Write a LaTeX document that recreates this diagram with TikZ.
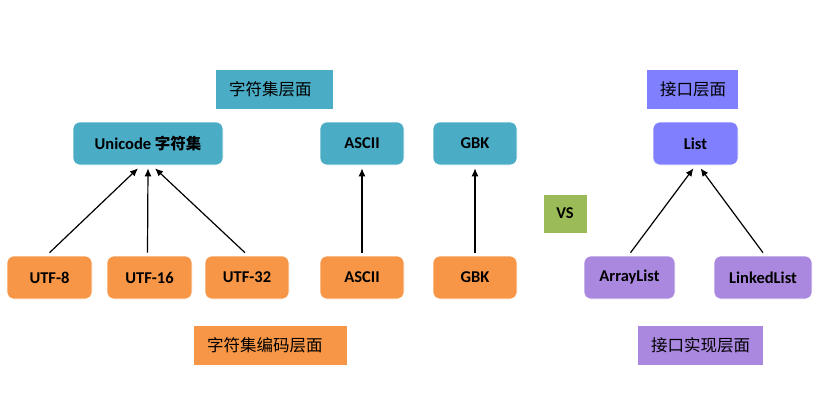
\documentclass[tikz,border=0pt]{standalone}
\usepackage{fontspec}
\usetikzlibrary{arrows.meta}
\setmainfont{Carlito}
\newfontfamily\cjk{Noto Sans CJK SC}
\newfontfamily\cjkb{Noto Sans CJK SC}[UprightFont=* Bold]
\definecolor{teal}{HTML}{4BACC6}
\definecolor{orng}{HTML}{F79646}
\definecolor{purp}{HTML}{AB88DF}
\definecolor{blu}{HTML}{8080FF}
\definecolor{grn}{HTML}{9BBB59}
\begin{document}
\begin{tikzpicture}[x=1pt,y=-1pt,
  box/.style={rounded corners=7pt, draw=white, line width=0.6pt, inner sep=0pt, font=\fontsize{16.5}{18}\selectfont\bfseries},
  lay/.style={inner sep=0pt, align=left, font=\cjk\fontsize{16.5}{18}\selectfont},
  arr/.style={-{Latex[length=8pt,width=7pt]}, line width=1.2pt}]
\useasboundingbox (0,0) rectangle (827,400);
% layer labels
\node[lay, fill=teal, minimum width=117pt, minimum height=39pt, text width=91pt] (l1) at (274.5,89.5) {字符集层面};
\node[lay, fill=blu, minimum width=91pt, minimum height=39pt, text width=65pt] (l2) at (692.5,89.5) {接口层面};
\node[lay, fill=orng, minimum width=153pt, minimum height=39pt, text width=127pt] (l3) at (270.5,345.5) {字符集编码层面};
\node[lay, fill=purp, minimum width=125pt, minimum height=39pt, text width=99pt] (l4) at (700.5,345.5) {接口实现层面};
\node[box, rounded corners=0pt, fill=grn, minimum width=44pt, minimum height=39pt] (vs) at (565,213.5) {VS};
% top row
\node[box, fill=teal, minimum width=150pt, minimum height=43pt] (uni) at (148,143.5) {Unicode {\cjkb\fontsize{15.5}{17}\selectfont 字符集}};
\node[box, fill=teal, minimum width=84pt, minimum height=43pt] (ascT) at (362,143.5) {ASCII};
\node[box, fill=teal, minimum width=84pt, minimum height=43pt] (gbkT) at (475,143.5) {GBK};
\node[box, fill=blu, minimum width=85pt, minimum height=43pt] (list) at (695.5,143.5) {List};
% bottom row
\node[box, fill=orng, minimum width=85pt, minimum height=43pt] (u8) at (49.5,277.5) {UTF-8};
\node[box, fill=orng, minimum width=85pt, minimum height=43pt] (u16) at (149.5,277.5) {UTF-16};
\node[box, fill=orng, minimum width=84pt, minimum height=43pt] (u32) at (247,277.5) {UTF-32};
\node[box, fill=orng, minimum width=84pt, minimum height=43pt] (ascB) at (362,277.5) {ASCII};
\node[box, fill=orng, minimum width=84pt, minimum height=43pt] (gbkB) at (475,277.5) {GBK};
\node[box, fill=purp, minimum width=91pt, minimum height=43pt] (al) at (629.5,277.5) {ArrayList};
\node[box, fill=purp, minimum width=98pt, minimum height=43pt] (ll) at (763,277.5) {LinkedList};
% arrows
\draw[arr] ([yshift=3pt]u8.north) -- ([xshift=-10pt,yshift=-3pt]uni.south);
\draw[arr] ([xshift=-2pt,yshift=3pt]u16.north) -- ([xshift=0pt,yshift=-3pt]uni.south);
\draw[arr] ([xshift=-2pt,yshift=3pt]u32.north) -- ([xshift=7pt,yshift=-3pt]uni.south);
\draw[arr] ([yshift=3pt]ascB.north) -- ([yshift=-3pt]ascT.south);
\draw[arr] ([yshift=3pt]gbkB.north) -- ([yshift=-3pt]gbkT.south);
\draw[arr] ([xshift=1pt,yshift=3pt]al.north) -- ([xshift=-2pt,yshift=-3pt]list.south);
\draw[arr] ([yshift=3pt]ll.north) -- ([xshift=5pt,yshift=-3pt]list.south);
\end{tikzpicture}
\end{document}
